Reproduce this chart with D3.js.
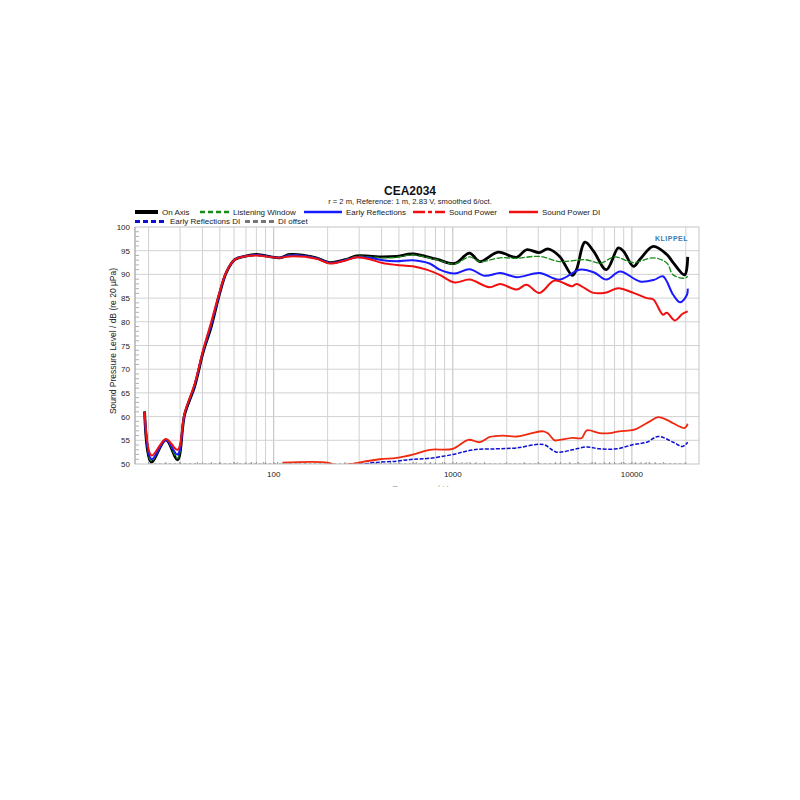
<!DOCTYPE html>
<html>
<head>
<meta charset="utf-8">
<script src="https://cdn.jsdelivr.net/npm/d3@7"></script>
<style>
  body { margin: 0; background: #fff; }
  svg { font-family: Arial, "Liberation Sans", sans-serif; }
</style>
</head>
<body>
<div id="chart"></div>
<script>
// CEA2034 spin data as [frequency Hz, dB]
const onAxis = [[19,61.1],[20.7,50.4],[25,55.1],[29,50.9],[31.8,60.4],[36.2,66.4],[40.3,73.5],[44.8,79],[50,86.1],[54.4,90.4],[60.5,93.1],[68.8,93.8],[80,94.2],[108,93.5],[123,94.2],[173,93.5],[205,92.5],[255,93.2],[290,93.9],[405,93.7],[485,93.8],[597,94.3],[812,93.2],[1023,92.3],[1240,94.5],[1415,92.7],[1792,94.7],[2270,93.6],[2578,95.2],[3048,94.6],[3393,95.4],[3947,93.8],[4652,89.8],[4903,91],[5473,96.8],[6104,94.9],[7208,91],[8400,95.6],[8970,94.9],[10200,91.7],[11100,93.2],[13170,95.9],[15660,94.2],[17000,92.5],[19700,89.9],[20500,93.7]];
const listeningWindow = [[19,61.1],[20.7,50.6],[25,55.1],[29,51.2],[31.8,60.5],[36.2,66.5],[40.3,73.6],[44.8,79.2],[50,86.2],[54.4,90.4],[60.5,93.1],[68.8,93.8],[80,94.1],[108,93.5],[123,94.1],[173,93.5],[205,92.5],[255,93.2],[290,93.8],[405,93.5],[485,93.6],[597,94.1],[812,93.1],[1023,92.2],[1240,93.7],[1415,92.7],[1840,93.5],[2270,93.4],[3048,93.8],[3947,92.7],[5473,93.1],[6700,92.4],[8000,93.7],[10200,92.5],[13170,93.5],[15660,92.4],[17000,89.9],[19700,89.2],[20500,89.6]];
const earlyReflections = [[19,61],[20.8,51],[25,55.1],[29,52],[31.8,60.6],[36.2,66.7],[40.3,73.8],[44.8,79.5],[50,86.3],[54.4,90.5],[60.5,93.1],[68.8,93.8],[80,94.1],[108,93.5],[123,94],[173,93.4],[205,92.4],[255,93.1],[290,93.6],[344,93.5],[405,93],[485,92.8],[597,93],[742,92.3],[845,91],[1023,90.2],[1240,91.1],[1510,89.7],[1840,90.3],[2270,89.4],[3048,90.3],[3947,88.9],[5100,91],[6160,90.4],[7208,88.9],[8590,90.6],[11100,88.5],[13400,88.9],[14900,89.6],[17000,85.7],[18600,84.1],[20300,85.7],[20500,87]];
const soundPower = [[19,61],[20.8,51.8],[25,55.3],[29,53],[31.8,60.8],[36.2,67],[40.3,74],[44.8,80],[50,86.5],[54.4,90.6],[60.5,93.1],[68.8,93.8],[80,94],[108,93.5],[123,93.8],[173,93.3],[205,92.3],[255,93],[290,93.6],[344,93.2],[405,92.4],[485,92],[597,91.7],[714,91],[845,89.9],[1023,88.3],[1240,88.9],[1600,87.3],[1840,88],[2270,86.8],[2578,87.8],[3048,86.1],[3700,88.7],[4652,87.5],[4903,88],[6104,86.1],[7208,86.2],[8400,87.1],[10200,86.1],[12100,85],[13170,84.7],[14900,81.5],[15660,81.9],[17400,80.3],[19200,81.7],[20500,82.2]];
const soundPowerDI = [[112,50.3],[200,50.3],[230,49.6],[268,50],[390,51],[485,51.3],[597,52],[742,53],[1000,53.2],[1220,55.1],[1415,54.6],[1610,55.7],[1900,56],[2270,55.8],[2700,56.4],[3200,56.9],[3393,56.5],[3700,55],[3947,55.1],[4650,55.5],[5250,55.5],[5600,57.1],[6600,56.5],[7550,56.5],[8500,56.9],[10200,57.2],[11100,57.8],[12600,59],[14000,59.9],[15700,59.3],[17000,58.6],[19700,57.6],[20500,58.5]];
const earlyReflectionsDI = [[112,49.8],[300,49.9],[363,50.3],[485,50.6],[597,51],[742,51.2],[1000,52],[1300,53],[1760,53.2],[2270,53.4],[3200,54.1],[3800,52.5],[4650,53],[5600,53.6],[6600,53.2],[8200,53.2],[10200,54.1],[12100,54.6],[14000,55.8],[17000,54.6],[19200,53.7],[20500,54.6]];
const diOffset = [[20,50],[20000,50]];

const yTicks = [50, 55, 60, 65, 70, 75, 80, 85, 90, 95, 100];
const xLabels = [100, 1000, 10000];

const W = 800, H = 800;
const pL = 135, pR = 699, pT = 227, pB = 464;

const svg = d3.select('#chart').append('svg')
  .attr('width', W).attr('height', H);

const x = d3.scaleLog().domain([16.8, 23700]).range([pL, pR]);
const y = d3.scaleLinear().domain([50, 100]).range([pB, pT]);

// grid
const vLines = [];
[10, 100, 1000, 10000].forEach(d => {
  for (let k = 1; k <= 9; k++) {
    const f = d * k;
    if (f >= 20 && f <= 20000) vLines.push(f);
  }
});
svg.append('g').selectAll('line').data(vLines).enter().append('line')
  .attr('x1', d => x(d)).attr('x2', d => x(d))
  .attr('y1', pT).attr('y2', pB)
  .attr('stroke', d => [100, 1000, 10000].includes(d) ? '#bdbdbd' : '#d2d2d2')
  .attr('stroke-width', 1);
svg.append('g').selectAll('line').data(yTicks.slice(1, -1)).enter().append('line')
  .attr('x1', pL).attr('x2', pR)
  .attr('y1', d => y(d)).attr('y2', d => y(d))
  .attr('stroke', '#d2d2d2');

// minor ticks on the left
svg.append('g').selectAll('line').data(d3.range(50, 101)).enter().append('line')
  .attr('x1', pL).attr('x2', d => d % 5 === 0 ? pL : pL + 4)
  .attr('y1', d => y(d)).attr('y2', d => y(d))
  .attr('stroke', '#b0b0b0');
// minor ticks on the bottom
const bt = [];
vLines.forEach(f => { bt.push(f); bt.push(f * 1.25); bt.push(f * 1.5); });
svg.append('g').selectAll('line').data(bt.filter(f => f < 22000)).enter().append('line')
  .attr('x1', d => x(d)).attr('x2', d => x(d))
  .attr('y1', pB - 2).attr('y2', pB)
  .attr('stroke', '#999');

// frame
svg.append('rect')
  .attr('x', pL).attr('y', pT)
  .attr('width', pR - pL).attr('height', pB - pT)
  .attr('fill', 'none').attr('stroke', '#c4c4c4');
svg.append('line')
  .attr('x1', pL).attr('x2', pL).attr('y1', pT).attr('y2', pB)
  .attr('stroke', '#a8a8a8');

// tick labels
svg.append('g').selectAll('text').data(yTicks).enter().append('text')
  .attr('x', pL - 5).attr('y', d => y(d) + 3)
  .attr('text-anchor', 'end').attr('font-size', 8).attr('fill', '#222')
  .text(d => d);
svg.append('g').selectAll('text').data(xLabels).enter().append('text')
  .attr('x', d => x(d)).attr('y', pB + 13)
  .attr('text-anchor', 'middle').attr('font-size', 8).attr('fill', '#222')
  .text(d => d);

// axis titles
svg.append('text')
  .attr('transform', `translate(116,341) rotate(-90)`)
  .attr('text-anchor', 'middle').attr('font-size', 8.5).attr('fill', '#222')
  .text('Sound Pressure Level / dB (re 20 µPa)');
// the x title is cut off at the bottom in the source picture
svg.append('clipPath').attr('id', 'xlab')
  .append('rect').attr('x', 300).attr('y', 470).attr('width', 250).attr('height', 17);
svg.append('text')
  .attr('clip-path', 'url(#xlab)')
  .attr('x', x(1000) - 30).attr('y', 492)
  .attr('text-anchor', 'middle').attr('font-size', 9).attr('fill', '#aaa')
  .text('Frequency / Hz');

// title
svg.append('text')
  .attr('x', 410).attr('y', 195)
  .attr('text-anchor', 'middle').attr('font-size', 12).attr('font-weight', 'bold')
  .attr('fill', '#111').text('CEA2034');
svg.append('text')
  .attr('x', 410).attr('y', 204)
  .attr('text-anchor', 'middle').attr('font-size', 7.6).attr('fill', '#222')
  .text('r = 2 m,  Reference: 1 m, 2.83 V, smoothed 6/oct.');

svg.append('text')
  .attr('x', 688).attr('y', 241)
  .attr('text-anchor', 'end').attr('font-size', 7).attr('font-weight', 'bold')
  .attr('fill', '#3a7cb0').attr('letter-spacing', 0.5).text('KLIPPEL');

// curves
const plot = svg.append('g');
plot.append('clipPath').attr('id', 'plotclip')
  .append('rect').attr('x', pL).attr('y', pT - 2)
  .attr('width', pR - pL).attr('height', pB - pT + 1.5);
const line = d3.line()
  .x(d => x(d[0])).y(d => y(d[1]))
  .curve(d3.curveCatmullRom.alpha(0.5));

const series = [
  { data: diOffset, color: '#7a7a7a', width: 1.5, dash: '3,2' },
  { data: earlyReflectionsDI, color: '#1010d0', width: 1.5, dash: '4,1.5' },
  { data: soundPowerDI, color: '#f02a10', width: 1.8, dash: null },
  { data: soundPower, color: '#f01010', width: 2, dash: null },
  { data: earlyReflections, color: '#1a1aff', width: 2, dash: null },
  { data: listeningWindow, color: '#178a17', width: 1.3, dash: '6,1.5' },
  { data: onAxis, color: '#000', width: 2.8, dash: null }
];
// On Axis goes under the colored curves so the low end looks like the picture
[series[0], series[1], series[2], series[6], series[5], series[4], series[3]].forEach(s => {
  plot.append('path')
    .attr('clip-path', 'url(#plotclip)')
    .attr('d', line(s.data))
    .attr('fill', 'none')
    .attr('stroke', s.color)
    .attr('stroke-width', s.width)
    .attr('stroke-dasharray', s.dash)
    .attr('stroke-linejoin', 'round');
});

// legend
const legendItems = [
  { name: 'On Axis', color: '#000', width: 4, dash: null, x: 135, len: 23, row: 0 },
  { name: 'Listening Window', color: '#178a17', width: 2.5, dash: '5,3', x: 200, len: 29, row: 0 },
  { name: 'Early Reflections', color: '#1a1aff', width: 2.5, dash: null, x: 304, len: 38, row: 0 },
  { name: 'Sound Power', color: '#f01010', width: 2.5, dash: '12,3,4,3', x: 413, len: 32, row: 0 },
  { name: 'Sound Power DI', color: '#f01010', width: 2.5, dash: null, x: 509, len: 29, row: 0 },
  { name: 'Early Reflections DI', color: '#1010d0', width: 3, dash: '5,3', x: 135, len: 31, row: 1 },
  { name: 'DI offset', color: '#777', width: 3, dash: '5,3', x: 245, len: 29, row: 1 }
];
const lg = svg.append('g').selectAll('g').data(legendItems).enter().append('g')
  .attr('transform', d => `translate(${d.x},${212 + d.row * 9.5})`);
lg.append('line')
  .attr('x1', 0).attr('x2', d => d.len).attr('y1', 0).attr('y2', 0)
  .attr('stroke', d => d.color).attr('stroke-width', d => d.width)
  .attr('stroke-dasharray', d => d.dash);
lg.append('text')
  .attr('x', d => d.len + 4).attr('y', 2.8)
  .attr('font-size', 8).attr('fill', '#222')
  .text(d => d.name);
</script>
</body>
</html>
